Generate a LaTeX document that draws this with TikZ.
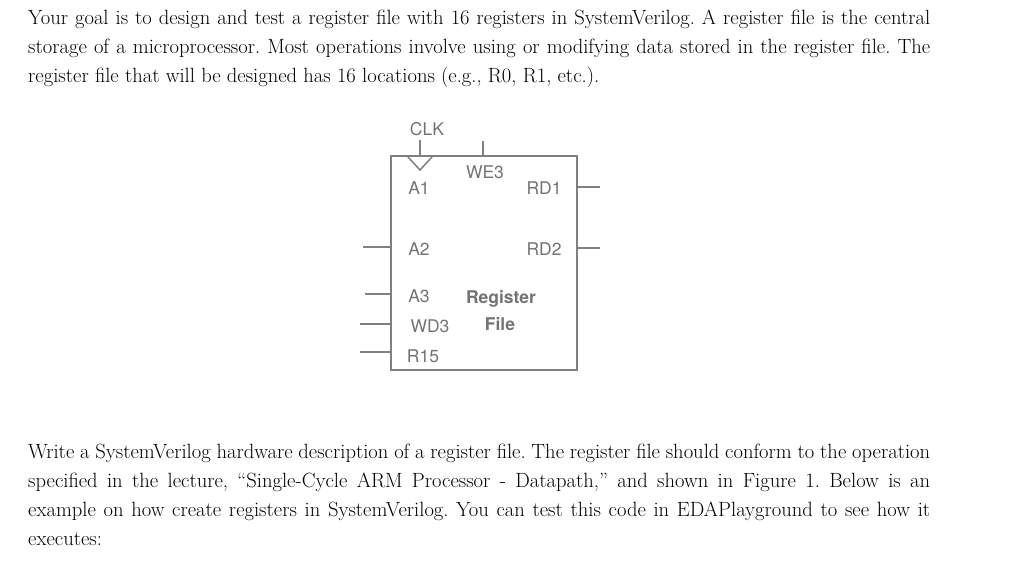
\documentclass[tikz,border=0pt]{standalone}
\usepackage{fontspec}
\newfontfamily\hvfont{TeX Gyre Heros}
\usetikzlibrary{positioning}
\frenchspacing
\begin{document}
\begin{tikzpicture}[x=1pt,y=-1pt]
        %
        % `pin' is used for the gray wires, `port' for the labels in the box.
        \tikzstyle{pin} = [draw=black!50,line width=2pt]
        \tikzstyle{port} = [font=\hvfont\fontsize{17.5}{18}\selectfont,text=black!55,inner sep=0pt]
        \tikzstyle{para} = [anchor=north west,inner sep=0pt,text width=902pt,align=justify,
                font=\fontsize{20.6}{28.8}\selectfont]
        \useasboundingbox (0,0) rectangle (1024,563);
        %
        % Text
        \node[para] (top) at (28,10) {Your goal is to design and test a register file with 16 registers in SystemVerilog. A register file is the central\linebreak storage of a microprocessor. Most operations involve using or modifying data stored in the register file. The\linebreak register file that will be designed has 16 locations (e.g., R0, R1, etc.).};
        \node[para] (bottom) at (28,444) {Write a SystemVerilog hardware description of a register file. The register file should conform to the operation\linebreak specified in the lecture, ``Single-Cycle ARM Processor - Datapath,'' and shown in Figure 1. Below is an\linebreak example on how create registers in SystemVerilog. You can test this code in EDAPlayground to see how it\linebreak executes:};
        %
        % Box
        \draw[pin] (391,156) rectangle (577,370);
        \coordinate (clk) at (420,156);
        \coordinate (we) at (483,156);
        \draw[pin,line width=1.5pt] (clk) -- +(0,-16);
        \draw[pin,line width=1.5pt] (we) -- +(0,-15);
        \draw[pin,line width=1.5pt] (408,157) -- (420,170) -- (432,157);
        %
        % Wires
        \draw[pin] (577,187) -- (600,187);
        \draw[pin,line width=1.5pt] (577,248) -- (600,248);
        \draw[pin,line width=1.5pt] (363,247) -- (391,247);
        \draw[pin,line width=1.5pt] (365,294) -- (391,294);
        \draw[pin] (360,324) -- (391,324);
        \draw[pin] (360,352) -- (391,352);
        %
        % Labels
        \node[port] (lclk) at (427,129) {CLK};
        \node[port] (lwe) at (485,172) {WE3};
        \node[port] (la1) at (419,188) {A1};
        \node[port] (lrd1) at (544,188) {RD1};
        \node[port] (la2) at (419,249) {A2};
        \node[port] (lrd2) at (544,249) {RD2};
        \node[port] (la3) at (419,296) {A3};
        \node[port] (lwd) at (430,326) {WD3};
        \node[port] (lr15) at (423,356) {R15};
        \node[port,font=\hvfont\bfseries\fontsize{17.5}{18}\selectfont] (reg) at (501,299) {Register};
        \node[port,font=\hvfont\bfseries\fontsize{17.5}{18}\selectfont] (file) at (500,324) {File};
\end{tikzpicture}
\end{document}
